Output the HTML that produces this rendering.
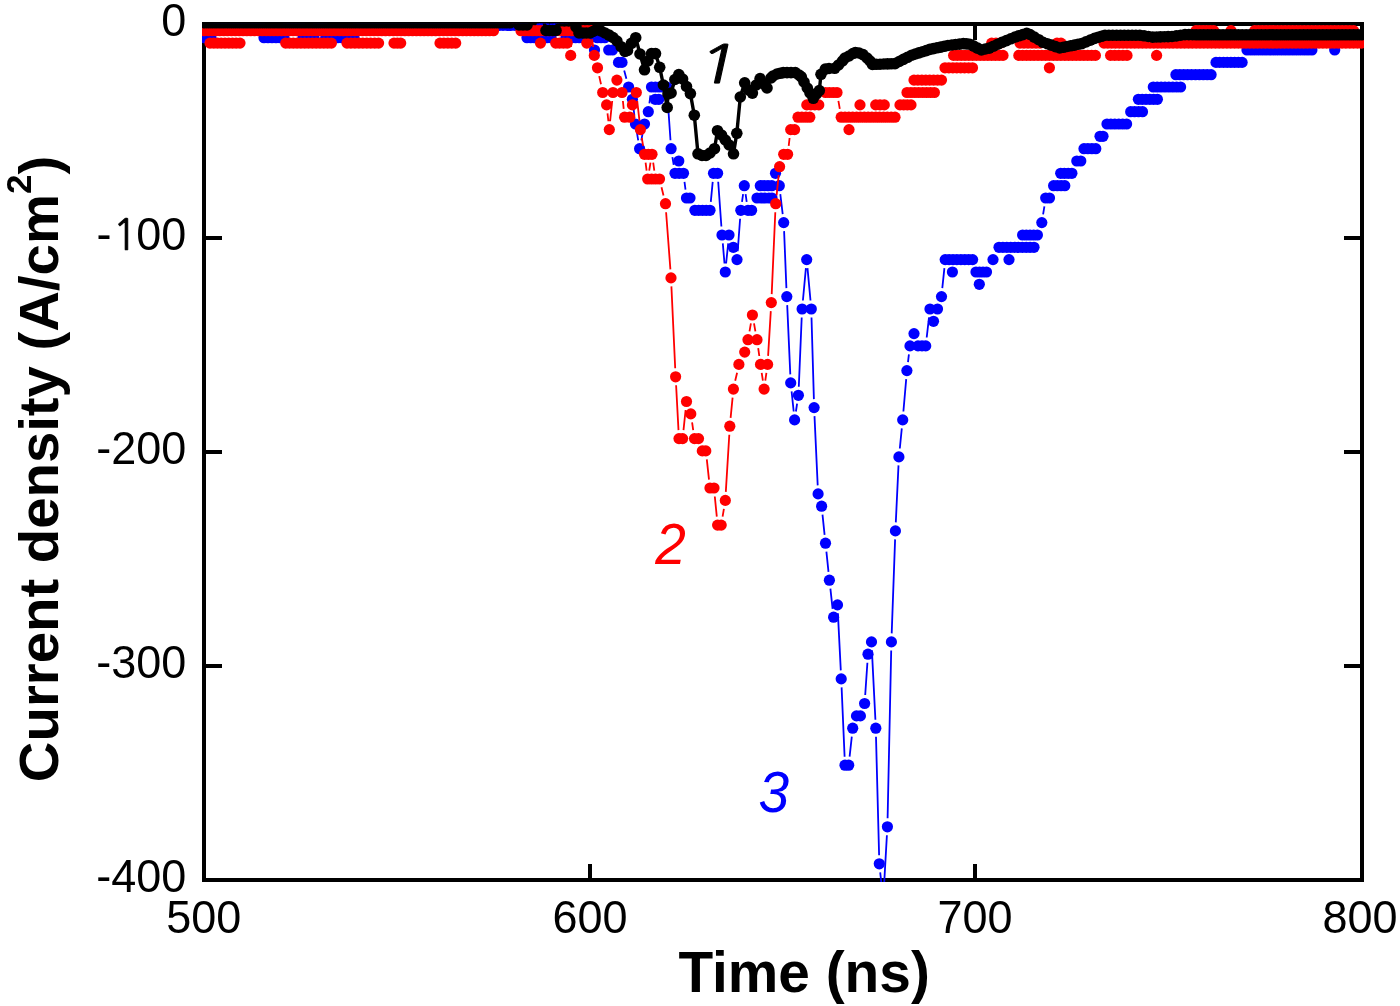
<!DOCTYPE html>
<html><head><meta charset="utf-8"><title>Current density vs Time</title>
<style>
html,body{margin:0;padding:0;background:#fff;}
svg{display:block}
text{font-family:"Liberation Sans",Arial,sans-serif;}
.tl{font-size:45px;fill:#000}
.ax{font-size:56.5px;font-weight:bold;fill:#000}
.it{font-size:55px;font-style:italic}
.one{font-family:NanumGothic,"Liberation Sans",sans-serif}
.one1{font-family:NanumGothic,"Liberation Sans",sans-serif;font-size:41px;stroke:#000;stroke-width:0.7px}
</style></head><body>
<svg width="1400" height="1006" viewBox="0 0 1400 1006">
<rect width="1400" height="1006" fill="#fff"/>

<defs><clipPath id="cp"><rect x="202.0" y="23.5" width="1162.0" height="858.5"/></clipPath></defs>

<g stroke="#000" stroke-width="4" fill="none" stroke-linecap="butt">
<rect x="204.0" y="24.0" width="1158.0" height="856.0"/>
<line x1="590.0" y1="880.0" x2="590.0" y2="864.0"/>
<line x1="590.0" y1="24.0" x2="590.0" y2="40.0"/>
<line x1="975.0" y1="880.0" x2="975.0" y2="864.0"/>
<line x1="975.0" y1="24.0" x2="975.0" y2="40.0"/>
<line x1="204.0" y1="238.0" x2="222.0" y2="238.0"/>
<line x1="1362.0" y1="238.0" x2="1344.0" y2="238.0"/>
<line x1="204.0" y1="452.0" x2="222.0" y2="452.0"/>
<line x1="1362.0" y1="452.0" x2="1344.0" y2="452.0"/>
<line x1="204.0" y1="666.0" x2="222.0" y2="666.0"/>
<line x1="1362.0" y1="666.0" x2="1344.0" y2="666.0"/>
</g>

<g clip-path="url(#cp)"><path fill="none" stroke="#0000ff" stroke-width="1.8" d="M624.2 70.6L626.4 78.8M633.5 107.8L634.4 115.6M636.9 132.4L638.2 140.3M641.3 140.3L642.8 132.3M649.4 103.3L650.4 95.4M667.4 95.5L670.5 140.2M672.4 157.1L673.7 164.9M684.5 181.8L685.5 189.6M710.8 201.9L712.7 181.8M718.2 181.8L721.4 226.5M722.8 243.4L724.5 263.5M726.1 263.5L728.2 243.4M737.7 251.2L740.1 218.8M742.0 201.9L743.1 194.1M745.6 194.1L746.7 201.9M773.2 189.6L774.3 181.7M780.3 194.1L782.7 214.2M784.1 231.1L786.4 288.1M787.2 305.1L790.3 374.4M791.6 391.4L793.7 411.5M795.9 411.5L797.1 403.7M798.8 386.8L801.7 317.5M802.9 300.5L805.9 268.1M807.5 268.1L810.5 300.5M811.5 317.5L813.9 399.1M814.5 416.1L817.7 485.4M822.5 514.7L824.6 534.8M826.4 551.7L828.5 571.8M830.4 588.7L832.6 608.8M837.9 613.4L840.8 670.4M841.6 687.4L844.6 756.7M849.6 756.7L851.8 736.6M865.2 695.0L867.4 662.7M871.9 650.4L875.4 719.7M876.0 736.7L879.1 855.3M880.2 872.3L882.3 891.5M883.7 891.5L886.9 835.3M887.6 818.3L891.2 650.4M891.7 633.4L895.1 539.4M895.8 522.4L898.5 465.4M899.8 448.5L901.8 428.4M903.4 411.5L906.2 379.1M908.0 362.2L908.9 354.4M926.7 337.5L929.0 317.4M942.3 288.2L944.4 268.1M1043.1 214.3L1044.4 206.4"/><g fill="#0000ff"><circle cx="204.5" cy="37.7" r="5.6"/><circle cx="207.8" cy="37.7" r="5.6"/><circle cx="211.0" cy="37.7" r="5.6"/><circle cx="215.0" cy="25.4" r="5.6"/><circle cx="218.8" cy="25.4" r="5.6"/><circle cx="222.5" cy="25.4" r="5.6"/><circle cx="226.2" cy="25.4" r="5.6"/><circle cx="230.0" cy="25.4" r="5.6"/><circle cx="233.8" cy="25.4" r="5.6"/><circle cx="237.5" cy="25.4" r="5.6"/><circle cx="241.2" cy="25.4" r="5.6"/><circle cx="245.0" cy="25.4" r="5.6"/><circle cx="248.8" cy="25.4" r="5.6"/><circle cx="252.5" cy="25.4" r="5.6"/><circle cx="256.2" cy="25.4" r="5.6"/><circle cx="260.0" cy="25.4" r="5.6"/><circle cx="264.0" cy="37.7" r="5.6"/><circle cx="268.0" cy="37.7" r="5.6"/><circle cx="272.0" cy="37.7" r="5.6"/><circle cx="276.0" cy="37.7" r="5.6"/><circle cx="280.0" cy="37.7" r="5.6"/><circle cx="284.0" cy="37.7" r="5.6"/><circle cx="288.0" cy="25.4" r="5.6"/><circle cx="292.0" cy="25.4" r="5.6"/><circle cx="296.0" cy="25.4" r="5.6"/><circle cx="300.0" cy="25.4" r="5.6"/><circle cx="303.0" cy="37.7" r="5.6"/><circle cx="306.7" cy="37.7" r="5.6"/><circle cx="310.3" cy="37.7" r="5.6"/><circle cx="314.0" cy="37.7" r="5.6"/><circle cx="318.0" cy="25.4" r="5.6"/><circle cx="322.0" cy="25.4" r="5.6"/><circle cx="325.7" cy="37.7" r="5.6"/><circle cx="329.7" cy="37.7" r="5.6"/><circle cx="333.8" cy="37.7" r="5.6"/><circle cx="337.8" cy="37.7" r="5.6"/><circle cx="341.9" cy="37.7" r="5.6"/><circle cx="345.9" cy="37.7" r="5.6"/><circle cx="350.0" cy="37.7" r="5.6"/><circle cx="354.0" cy="37.7" r="5.6"/><circle cx="358.0" cy="25.4" r="5.6"/><circle cx="361.9" cy="25.4" r="5.6"/><circle cx="365.8" cy="25.4" r="5.6"/><circle cx="369.7" cy="25.4" r="5.6"/><circle cx="373.6" cy="25.4" r="5.6"/><circle cx="377.4" cy="25.4" r="5.6"/><circle cx="381.3" cy="25.4" r="5.6"/><circle cx="385.2" cy="25.4" r="5.6"/><circle cx="389.1" cy="25.4" r="5.6"/><circle cx="393.0" cy="25.4" r="5.6"/><circle cx="396.9" cy="25.4" r="5.6"/><circle cx="400.8" cy="25.4" r="5.6"/><circle cx="404.7" cy="25.4" r="5.6"/><circle cx="408.6" cy="25.4" r="5.6"/><circle cx="412.4" cy="25.4" r="5.6"/><circle cx="416.3" cy="25.4" r="5.6"/><circle cx="420.2" cy="25.4" r="5.6"/><circle cx="424.1" cy="25.4" r="5.6"/><circle cx="428.0" cy="25.4" r="5.6"/><circle cx="431.9" cy="25.4" r="5.6"/><circle cx="435.8" cy="25.4" r="5.6"/><circle cx="439.7" cy="25.4" r="5.6"/><circle cx="443.6" cy="25.4" r="5.6"/><circle cx="447.4" cy="25.4" r="5.6"/><circle cx="451.3" cy="25.4" r="5.6"/><circle cx="455.2" cy="25.4" r="5.6"/><circle cx="459.1" cy="25.4" r="5.6"/><circle cx="463.0" cy="25.4" r="5.6"/><circle cx="466.9" cy="25.4" r="5.6"/><circle cx="470.8" cy="25.4" r="5.6"/><circle cx="474.7" cy="25.4" r="5.6"/><circle cx="478.6" cy="25.4" r="5.6"/><circle cx="482.4" cy="25.4" r="5.6"/><circle cx="486.3" cy="25.4" r="5.6"/><circle cx="490.2" cy="25.4" r="5.6"/><circle cx="494.1" cy="25.4" r="5.6"/><circle cx="498.0" cy="25.4" r="5.6"/><circle cx="499.0" cy="25.4" r="5.6"/><circle cx="503.0" cy="25.4" r="5.6"/><circle cx="507.0" cy="25.4" r="5.6"/><circle cx="511.0" cy="25.4" r="5.6"/><circle cx="515.0" cy="25.4" r="5.6"/><circle cx="519.0" cy="25.4" r="5.6"/><circle cx="523.0" cy="25.4" r="5.6"/><circle cx="527.0" cy="37.7" r="5.6"/><circle cx="530.7" cy="37.7" r="5.6"/><circle cx="534.3" cy="37.7" r="5.6"/><circle cx="538.0" cy="37.7" r="5.6"/><circle cx="542.0" cy="25.4" r="5.6"/><circle cx="544.0" cy="25.4" r="5.6"/><circle cx="547.0" cy="37.7" r="5.6"/><circle cx="551.0" cy="37.7" r="5.6"/><circle cx="555.0" cy="25.4" r="5.6"/><circle cx="559.0" cy="25.4" r="5.6"/><circle cx="563.0" cy="25.4" r="5.6"/><circle cx="566.0" cy="37.7" r="5.6"/><circle cx="569.0" cy="37.7" r="5.6"/><circle cx="572.0" cy="37.7" r="5.6"/><circle cx="575.6" cy="37.7" r="5.6"/><circle cx="579.2" cy="37.7" r="5.6"/><circle cx="582.8" cy="37.7" r="5.6"/><circle cx="586.4" cy="37.7" r="5.6"/><circle cx="590.0" cy="37.7" r="5.6"/><circle cx="594.5" cy="50.0" r="5.6"/><circle cx="597.3" cy="37.7" r="5.6"/><circle cx="601.0" cy="37.7" r="5.6"/><circle cx="604.8" cy="37.7" r="5.6"/><circle cx="608.7" cy="50.0" r="5.6"/><circle cx="612.5" cy="50.0" r="5.6"/><circle cx="618.5" cy="62.4" r="5.6"/><circle cx="622.0" cy="62.4" r="5.6"/><circle cx="628.6" cy="87.0" r="5.6"/><circle cx="632.4" cy="99.3" r="5.6"/><circle cx="635.5" cy="124.0" r="5.6"/><circle cx="639.6" cy="148.7" r="5.6"/><circle cx="644.5" cy="124.0" r="5.6"/><circle cx="648.3" cy="111.7" r="5.6"/><circle cx="651.5" cy="87.0" r="5.6"/><circle cx="655.2" cy="99.3" r="5.6"/><circle cx="655.4" cy="87.0" r="5.6"/><circle cx="658.8" cy="99.3" r="5.6"/><circle cx="659.2" cy="87.0" r="5.6"/><circle cx="663.0" cy="87.0" r="5.6"/><circle cx="666.8" cy="87.0" r="5.6"/><circle cx="671.1" cy="148.7" r="5.6"/><circle cx="675.0" cy="173.3" r="5.6"/><circle cx="678.8" cy="161.0" r="5.6"/><circle cx="679.2" cy="173.3" r="5.6"/><circle cx="683.5" cy="173.3" r="5.6"/><circle cx="686.5" cy="198.0" r="5.6"/><circle cx="690.0" cy="198.0" r="5.6"/><circle cx="694.9" cy="210.3" r="5.6"/><circle cx="698.7" cy="210.3" r="5.6"/><circle cx="702.5" cy="210.3" r="5.6"/><circle cx="706.2" cy="210.3" r="5.6"/><circle cx="710.0" cy="210.3" r="5.6"/><circle cx="713.5" cy="173.3" r="5.6"/><circle cx="717.6" cy="173.3" r="5.6"/><circle cx="722.0" cy="235.0" r="5.6"/><circle cx="725.3" cy="272.0" r="5.6"/><circle cx="729.0" cy="235.0" r="5.6"/><circle cx="733.3" cy="247.3" r="5.6"/><circle cx="737.0" cy="259.6" r="5.6"/><circle cx="740.8" cy="210.3" r="5.6"/><circle cx="744.3" cy="185.7" r="5.6"/><circle cx="748.0" cy="210.3" r="5.6"/><circle cx="751.6" cy="210.3" r="5.6"/><circle cx="757.0" cy="198.0" r="5.6"/><circle cx="760.3" cy="185.7" r="5.6"/><circle cx="761.0" cy="198.0" r="5.6"/><circle cx="764.2" cy="185.7" r="5.6"/><circle cx="765.0" cy="198.0" r="5.6"/><circle cx="768.0" cy="185.7" r="5.6"/><circle cx="769.0" cy="198.0" r="5.6"/><circle cx="772.0" cy="198.0" r="5.6"/><circle cx="771.8" cy="185.7" r="5.6"/><circle cx="775.5" cy="173.3" r="5.6"/><circle cx="779.3" cy="185.7" r="5.6"/><circle cx="783.7" cy="222.6" r="5.6"/><circle cx="786.8" cy="296.6" r="5.6"/><circle cx="790.7" cy="382.9" r="5.6"/><circle cx="794.6" cy="419.9" r="5.6"/><circle cx="798.4" cy="395.3" r="5.6"/><circle cx="802.1" cy="309.0" r="5.6"/><circle cx="806.7" cy="259.6" r="5.6"/><circle cx="811.3" cy="309.0" r="5.6"/><circle cx="814.1" cy="407.6" r="5.6"/><circle cx="818.1" cy="493.9" r="5.6"/><circle cx="821.6" cy="506.2" r="5.6"/><circle cx="825.5" cy="543.2" r="5.6"/><circle cx="829.4" cy="580.2" r="5.6"/><circle cx="833.6" cy="617.2" r="5.6"/><circle cx="837.5" cy="604.9" r="5.6"/><circle cx="841.2" cy="678.9" r="5.6"/><circle cx="845.0" cy="765.2" r="5.6"/><circle cx="848.7" cy="765.2" r="5.6"/><circle cx="852.7" cy="728.2" r="5.6"/><circle cx="856.5" cy="715.9" r="5.6"/><circle cx="860.4" cy="715.9" r="5.6"/><circle cx="864.6" cy="703.5" r="5.6"/><circle cx="868.0" cy="654.2" r="5.6"/><circle cx="871.5" cy="641.9" r="5.6"/><circle cx="875.8" cy="728.2" r="5.6"/><circle cx="879.3" cy="863.8" r="5.6"/><circle cx="883.2" cy="900.0" r="5.6"/><circle cx="887.4" cy="826.8" r="5.6"/><circle cx="891.4" cy="641.9" r="5.6"/><circle cx="895.4" cy="530.9" r="5.6"/><circle cx="898.9" cy="456.9" r="5.6"/><circle cx="902.7" cy="419.9" r="5.6"/><circle cx="906.9" cy="370.6" r="5.6"/><circle cx="910.0" cy="345.9" r="5.6"/><circle cx="914.0" cy="333.6" r="5.6"/><circle cx="918.0" cy="345.9" r="5.6"/><circle cx="922.0" cy="345.9" r="5.6"/><circle cx="925.7" cy="345.9" r="5.6"/><circle cx="930.0" cy="309.0" r="5.6"/><circle cx="933.5" cy="321.3" r="5.6"/><circle cx="937.5" cy="309.0" r="5.6"/><circle cx="941.5" cy="296.6" r="5.6"/><circle cx="945.2" cy="259.6" r="5.6"/><circle cx="949.1" cy="259.6" r="5.6"/><circle cx="953.0" cy="259.6" r="5.6"/><circle cx="956.9" cy="259.6" r="5.6"/><circle cx="960.9" cy="259.6" r="5.6"/><circle cx="964.8" cy="259.6" r="5.6"/><circle cx="968.7" cy="259.6" r="5.6"/><circle cx="972.6" cy="259.6" r="5.6"/><circle cx="952.4" cy="272.0" r="5.6"/><circle cx="976.0" cy="272.0" r="5.6"/><circle cx="979.5" cy="272.0" r="5.6"/><circle cx="983.0" cy="272.0" r="5.6"/><circle cx="986.5" cy="272.0" r="5.6"/><circle cx="979.3" cy="284.3" r="5.6"/><circle cx="993.0" cy="259.6" r="5.6"/><circle cx="999.0" cy="247.3" r="5.6"/><circle cx="1002.9" cy="247.3" r="5.6"/><circle cx="1006.8" cy="247.3" r="5.6"/><circle cx="1010.7" cy="247.3" r="5.6"/><circle cx="1014.6" cy="247.3" r="5.6"/><circle cx="1018.4" cy="247.3" r="5.6"/><circle cx="1022.3" cy="247.3" r="5.6"/><circle cx="1026.2" cy="247.3" r="5.6"/><circle cx="1030.1" cy="247.3" r="5.6"/><circle cx="1034.0" cy="247.3" r="5.6"/><circle cx="1009.0" cy="259.6" r="5.6"/><circle cx="1022.6" cy="235.0" r="5.6"/><circle cx="1026.3" cy="235.0" r="5.6"/><circle cx="1030.0" cy="235.0" r="5.6"/><circle cx="1033.7" cy="235.0" r="5.6"/><circle cx="1037.4" cy="235.0" r="5.6"/><circle cx="1041.8" cy="222.6" r="5.6"/><circle cx="1045.7" cy="198.0" r="5.6"/><circle cx="1049.5" cy="198.0" r="5.6"/><circle cx="1053.6" cy="185.7" r="5.6"/><circle cx="1057.3" cy="185.7" r="5.6"/><circle cx="1061.1" cy="185.7" r="5.6"/><circle cx="1064.8" cy="185.7" r="5.6"/><circle cx="1060.7" cy="173.3" r="5.6"/><circle cx="1064.4" cy="173.3" r="5.6"/><circle cx="1068.2" cy="173.3" r="5.6"/><circle cx="1071.9" cy="173.3" r="5.6"/><circle cx="1076.8" cy="161.0" r="5.6"/><circle cx="1080.8" cy="161.0" r="5.6"/><circle cx="1084.0" cy="148.7" r="5.6"/><circle cx="1087.9" cy="148.7" r="5.6"/><circle cx="1091.9" cy="148.7" r="5.6"/><circle cx="1095.8" cy="148.7" r="5.6"/><circle cx="1100.0" cy="136.3" r="5.6"/><circle cx="1103.0" cy="136.3" r="5.6"/><circle cx="1107.0" cy="124.0" r="5.6"/><circle cx="1110.9" cy="124.0" r="5.6"/><circle cx="1114.8" cy="124.0" r="5.6"/><circle cx="1118.8" cy="124.0" r="5.6"/><circle cx="1122.7" cy="124.0" r="5.6"/><circle cx="1126.6" cy="124.0" r="5.6"/><circle cx="1130.7" cy="111.7" r="5.6"/><circle cx="1134.6" cy="111.7" r="5.6"/><circle cx="1138.6" cy="111.7" r="5.6"/><circle cx="1142.5" cy="111.7" r="5.6"/><circle cx="1138.4" cy="99.3" r="5.6"/><circle cx="1142.2" cy="99.3" r="5.6"/><circle cx="1146.0" cy="99.3" r="5.6"/><circle cx="1149.8" cy="99.3" r="5.6"/><circle cx="1153.6" cy="99.3" r="5.6"/><circle cx="1157.4" cy="99.3" r="5.6"/><circle cx="1153.3" cy="87.0" r="5.6"/><circle cx="1157.2" cy="87.0" r="5.6"/><circle cx="1161.1" cy="87.0" r="5.6"/><circle cx="1165.0" cy="87.0" r="5.6"/><circle cx="1168.9" cy="87.0" r="5.6"/><circle cx="1172.8" cy="87.0" r="5.6"/><circle cx="1176.7" cy="87.0" r="5.6"/><circle cx="1180.6" cy="87.0" r="5.6"/><circle cx="1175.9" cy="74.7" r="5.6"/><circle cx="1179.8" cy="74.7" r="5.6"/><circle cx="1183.7" cy="74.7" r="5.6"/><circle cx="1187.6" cy="74.7" r="5.6"/><circle cx="1191.5" cy="74.7" r="5.6"/><circle cx="1195.5" cy="74.7" r="5.6"/><circle cx="1199.4" cy="74.7" r="5.6"/><circle cx="1203.3" cy="74.7" r="5.6"/><circle cx="1207.2" cy="74.7" r="5.6"/><circle cx="1211.1" cy="74.7" r="5.6"/><circle cx="1216.0" cy="62.4" r="5.6"/><circle cx="1219.7" cy="62.4" r="5.6"/><circle cx="1223.5" cy="62.4" r="5.6"/><circle cx="1227.2" cy="62.4" r="5.6"/><circle cx="1230.9" cy="62.4" r="5.6"/><circle cx="1234.6" cy="62.4" r="5.6"/><circle cx="1238.4" cy="62.4" r="5.6"/><circle cx="1242.1" cy="62.4" r="5.6"/><circle cx="1247.0" cy="50.0" r="5.6"/><circle cx="1250.8" cy="50.0" r="5.6"/><circle cx="1254.6" cy="50.0" r="5.6"/><circle cx="1258.5" cy="50.0" r="5.6"/><circle cx="1262.3" cy="50.0" r="5.6"/><circle cx="1266.1" cy="50.0" r="5.6"/><circle cx="1269.9" cy="50.0" r="5.6"/><circle cx="1273.7" cy="50.0" r="5.6"/><circle cx="1277.5" cy="50.0" r="5.6"/><circle cx="1281.4" cy="50.0" r="5.6"/><circle cx="1285.2" cy="50.0" r="5.6"/><circle cx="1289.0" cy="50.0" r="5.6"/><circle cx="1292.8" cy="50.0" r="5.6"/><circle cx="1296.6" cy="50.0" r="5.6"/><circle cx="1300.4" cy="50.0" r="5.6"/><circle cx="1304.3" cy="50.0" r="5.6"/><circle cx="1308.1" cy="50.0" r="5.6"/><circle cx="1311.9" cy="50.0" r="5.6"/><circle cx="1334.7" cy="50.0" r="5.6"/><circle cx="1315.5" cy="37.7" r="5.6"/><circle cx="1319.4" cy="37.7" r="5.6"/><circle cx="1323.2" cy="37.7" r="5.6"/><circle cx="1327.1" cy="37.7" r="5.6"/><circle cx="1331.0" cy="37.7" r="5.6"/><circle cx="1338.5" cy="37.7" r="5.6"/><circle cx="1342.2" cy="37.7" r="5.6"/><circle cx="1346.0" cy="37.7" r="5.6"/><circle cx="1349.8" cy="37.7" r="5.6"/><circle cx="1353.5" cy="37.7" r="5.6"/><circle cx="1357.2" cy="37.7" r="5.6"/><circle cx="1361.0" cy="37.7" r="5.6"/></g></g>

<g clip-path="url(#cp)"><path fill="none" stroke="#ff0000" stroke-width="1.8" d="M568.7 39.1L569.7 47.0M571.0 46.9L571.3 39.2M592.1 39.1L593.2 47.0M599.2 76.1L601.0 84.2M607.5 113.3L608.4 121.1M610.1 121.1L612.2 101.0M622.9 101.0L623.7 108.8M637.2 100.9L639.5 121.1M641.8 138.0L643.1 145.9M645.6 162.7L646.6 170.6M649.2 170.6L650.5 162.7M653.2 162.7L654.3 170.6M661.5 187.3L663.5 195.5M666.1 212.2L670.4 269.4M671.4 286.4L675.2 368.3M676.1 385.3L678.5 430.1M683.5 430.1L685.6 410.0M692.1 422.3L693.2 430.2M706.8 459.4L709.0 479.6M714.8 496.5L716.8 516.6M722.6 516.7L723.9 508.8M725.8 491.9L729.3 434.7M730.6 417.8L732.6 397.6M735.2 380.8L737.1 372.7M749.5 331.3L750.9 323.3M754.0 323.3L755.4 331.3M758.2 348.1L759.3 356.0M761.7 372.8L762.9 380.7M765.3 380.7L766.4 372.8M768.1 355.9L770.8 311.1M771.7 294.1L775.3 212.2M776.6 195.3L778.7 175.1M788.7 145.9L789.6 138.0M838.4 100.9L839.8 108.8M912.0 96.4L913.0 88.6"/><g fill="#ff0000"><circle cx="204.5" cy="30.7" r="5.6"/><circle cx="208.4" cy="30.7" r="5.6"/><circle cx="212.2" cy="30.7" r="5.6"/><circle cx="216.1" cy="30.7" r="5.6"/><circle cx="219.9" cy="30.7" r="5.6"/><circle cx="223.8" cy="30.7" r="5.6"/><circle cx="227.6" cy="30.7" r="5.6"/><circle cx="231.5" cy="30.7" r="5.6"/><circle cx="235.3" cy="30.7" r="5.6"/><circle cx="239.2" cy="30.7" r="5.6"/><circle cx="243.0" cy="30.7" r="5.6"/><circle cx="246.9" cy="30.7" r="5.6"/><circle cx="250.7" cy="30.7" r="5.6"/><circle cx="254.6" cy="30.7" r="5.6"/><circle cx="258.4" cy="30.7" r="5.6"/><circle cx="262.3" cy="30.7" r="5.6"/><circle cx="266.2" cy="30.7" r="5.6"/><circle cx="270.0" cy="30.7" r="5.6"/><circle cx="273.9" cy="30.7" r="5.6"/><circle cx="277.7" cy="30.7" r="5.6"/><circle cx="281.6" cy="30.7" r="5.6"/><circle cx="285.4" cy="30.7" r="5.6"/><circle cx="289.3" cy="30.7" r="5.6"/><circle cx="293.1" cy="30.7" r="5.6"/><circle cx="297.0" cy="30.7" r="5.6"/><circle cx="300.8" cy="30.7" r="5.6"/><circle cx="304.7" cy="30.7" r="5.6"/><circle cx="308.5" cy="30.7" r="5.6"/><circle cx="312.4" cy="30.7" r="5.6"/><circle cx="316.2" cy="30.7" r="5.6"/><circle cx="320.1" cy="30.7" r="5.6"/><circle cx="324.0" cy="30.7" r="5.6"/><circle cx="327.8" cy="30.7" r="5.6"/><circle cx="331.7" cy="30.7" r="5.6"/><circle cx="335.5" cy="30.7" r="5.6"/><circle cx="339.4" cy="30.7" r="5.6"/><circle cx="343.2" cy="30.7" r="5.6"/><circle cx="347.1" cy="30.7" r="5.6"/><circle cx="350.9" cy="30.7" r="5.6"/><circle cx="354.8" cy="30.7" r="5.6"/><circle cx="358.6" cy="30.7" r="5.6"/><circle cx="362.5" cy="30.7" r="5.6"/><circle cx="366.3" cy="30.7" r="5.6"/><circle cx="370.2" cy="30.7" r="5.6"/><circle cx="374.0" cy="30.7" r="5.6"/><circle cx="377.9" cy="30.7" r="5.6"/><circle cx="381.8" cy="30.7" r="5.6"/><circle cx="385.6" cy="30.7" r="5.6"/><circle cx="389.5" cy="30.7" r="5.6"/><circle cx="393.3" cy="30.7" r="5.6"/><circle cx="397.2" cy="30.7" r="5.6"/><circle cx="401.0" cy="30.7" r="5.6"/><circle cx="404.9" cy="30.7" r="5.6"/><circle cx="408.7" cy="30.7" r="5.6"/><circle cx="412.6" cy="30.7" r="5.6"/><circle cx="416.4" cy="30.7" r="5.6"/><circle cx="420.3" cy="30.7" r="5.6"/><circle cx="424.1" cy="30.7" r="5.6"/><circle cx="428.0" cy="30.7" r="5.6"/><circle cx="431.8" cy="30.7" r="5.6"/><circle cx="435.7" cy="30.7" r="5.6"/><circle cx="439.6" cy="30.7" r="5.6"/><circle cx="443.4" cy="30.7" r="5.6"/><circle cx="447.3" cy="30.7" r="5.6"/><circle cx="451.1" cy="30.7" r="5.6"/><circle cx="455.0" cy="30.7" r="5.6"/><circle cx="458.8" cy="30.7" r="5.6"/><circle cx="462.7" cy="30.7" r="5.6"/><circle cx="466.5" cy="30.7" r="5.6"/><circle cx="470.4" cy="30.7" r="5.6"/><circle cx="474.2" cy="30.7" r="5.6"/><circle cx="478.1" cy="30.7" r="5.6"/><circle cx="481.9" cy="30.7" r="5.6"/><circle cx="485.8" cy="30.7" r="5.6"/><circle cx="489.6" cy="30.7" r="5.6"/><circle cx="493.5" cy="30.7" r="5.6"/><circle cx="210.0" cy="43.1" r="5.6"/><circle cx="213.8" cy="43.1" r="5.6"/><circle cx="217.5" cy="43.1" r="5.6"/><circle cx="221.2" cy="43.1" r="5.6"/><circle cx="225.0" cy="43.1" r="5.6"/><circle cx="228.8" cy="43.1" r="5.6"/><circle cx="232.5" cy="43.1" r="5.6"/><circle cx="236.2" cy="43.1" r="5.6"/><circle cx="240.0" cy="43.1" r="5.6"/><circle cx="285.7" cy="43.1" r="5.6"/><circle cx="289.5" cy="43.1" r="5.6"/><circle cx="293.3" cy="43.1" r="5.6"/><circle cx="297.1" cy="43.1" r="5.6"/><circle cx="300.9" cy="43.1" r="5.6"/><circle cx="304.7" cy="43.1" r="5.6"/><circle cx="308.5" cy="43.1" r="5.6"/><circle cx="312.4" cy="43.1" r="5.6"/><circle cx="316.2" cy="43.1" r="5.6"/><circle cx="320.0" cy="43.1" r="5.6"/><circle cx="323.8" cy="43.1" r="5.6"/><circle cx="327.6" cy="43.1" r="5.6"/><circle cx="331.4" cy="43.1" r="5.6"/><circle cx="347.0" cy="43.1" r="5.6"/><circle cx="350.9" cy="43.1" r="5.6"/><circle cx="354.9" cy="43.1" r="5.6"/><circle cx="358.9" cy="43.1" r="5.6"/><circle cx="362.8" cy="43.1" r="5.6"/><circle cx="366.8" cy="43.1" r="5.6"/><circle cx="370.7" cy="43.1" r="5.6"/><circle cx="374.7" cy="43.1" r="5.6"/><circle cx="378.6" cy="43.1" r="5.6"/><circle cx="394.0" cy="43.1" r="5.6"/><circle cx="397.4" cy="43.1" r="5.6"/><circle cx="400.7" cy="43.1" r="5.6"/><circle cx="440.0" cy="43.1" r="5.6"/><circle cx="443.9" cy="43.1" r="5.6"/><circle cx="447.9" cy="43.1" r="5.6"/><circle cx="451.8" cy="43.1" r="5.6"/><circle cx="455.7" cy="43.1" r="5.6"/><circle cx="497.5" cy="18.3" r="5.6"/><circle cx="501.4" cy="18.3" r="5.6"/><circle cx="505.3" cy="18.3" r="5.6"/><circle cx="509.2" cy="18.3" r="5.6"/><circle cx="513.1" cy="18.3" r="5.6"/><circle cx="517.0" cy="18.3" r="5.6"/><circle cx="521.0" cy="30.7" r="5.6"/><circle cx="524.9" cy="30.7" r="5.6"/><circle cx="528.8" cy="30.7" r="5.6"/><circle cx="532.7" cy="30.7" r="5.6"/><circle cx="536.6" cy="30.7" r="5.6"/><circle cx="540.4" cy="30.7" r="5.6"/><circle cx="544.3" cy="30.7" r="5.6"/><circle cx="548.2" cy="30.7" r="5.6"/><circle cx="552.1" cy="30.7" r="5.6"/><circle cx="556.0" cy="30.7" r="5.6"/><circle cx="559.9" cy="30.7" r="5.6"/><circle cx="563.8" cy="30.7" r="5.6"/><circle cx="567.7" cy="30.7" r="5.6"/><circle cx="571.6" cy="30.7" r="5.6"/><circle cx="575.4" cy="30.7" r="5.6"/><circle cx="579.3" cy="30.7" r="5.6"/><circle cx="583.2" cy="30.7" r="5.6"/><circle cx="587.1" cy="30.7" r="5.6"/><circle cx="591.0" cy="30.7" r="5.6"/><circle cx="540.5" cy="43.1" r="5.6"/><circle cx="555.7" cy="43.1" r="5.6"/><circle cx="559.5" cy="43.1" r="5.6"/><circle cx="563.4" cy="43.1" r="5.6"/><circle cx="567.2" cy="43.1" r="5.6"/><circle cx="586.8" cy="43.1" r="5.6"/><circle cx="570.7" cy="55.4" r="5.6"/><circle cx="594.3" cy="55.4" r="5.6"/><circle cx="597.5" cy="67.8" r="5.6"/><circle cx="602.7" cy="92.5" r="5.6"/><circle cx="606.6" cy="104.9" r="5.6"/><circle cx="609.3" cy="129.6" r="5.6"/><circle cx="613.0" cy="92.5" r="5.6"/><circle cx="616.9" cy="80.1" r="5.6"/><circle cx="622.0" cy="92.5" r="5.6"/><circle cx="624.6" cy="117.2" r="5.6"/><circle cx="629.8" cy="117.2" r="5.6"/><circle cx="632.4" cy="104.9" r="5.6"/><circle cx="636.3" cy="92.5" r="5.6"/><circle cx="640.4" cy="129.6" r="5.6"/><circle cx="644.5" cy="154.3" r="5.6"/><circle cx="647.7" cy="179.0" r="5.6"/><circle cx="652.0" cy="154.3" r="5.6"/><circle cx="655.5" cy="179.0" r="5.6"/><circle cx="659.5" cy="179.0" r="5.6"/><circle cx="665.5" cy="203.7" r="5.6"/><circle cx="671.0" cy="277.9" r="5.6"/><circle cx="675.6" cy="376.8" r="5.6"/><circle cx="679.0" cy="438.6" r="5.6"/><circle cx="682.6" cy="438.6" r="5.6"/><circle cx="686.5" cy="401.5" r="5.6"/><circle cx="690.8" cy="413.9" r="5.6"/><circle cx="694.5" cy="438.6" r="5.6"/><circle cx="698.5" cy="438.6" r="5.6"/><circle cx="702.3" cy="450.9" r="5.6"/><circle cx="705.8" cy="450.9" r="5.6"/><circle cx="710.0" cy="488.0" r="5.6"/><circle cx="714.0" cy="488.0" r="5.6"/><circle cx="717.6" cy="525.1" r="5.6"/><circle cx="721.2" cy="525.1" r="5.6"/><circle cx="725.3" cy="500.4" r="5.6"/><circle cx="729.8" cy="426.2" r="5.6"/><circle cx="733.4" cy="389.1" r="5.6"/><circle cx="738.9" cy="364.4" r="5.6"/><circle cx="744.7" cy="352.1" r="5.6"/><circle cx="748.0" cy="339.7" r="5.6"/><circle cx="752.4" cy="315.0" r="5.6"/><circle cx="757.0" cy="339.7" r="5.6"/><circle cx="760.5" cy="364.4" r="5.6"/><circle cx="764.1" cy="389.1" r="5.6"/><circle cx="767.6" cy="364.4" r="5.6"/><circle cx="771.3" cy="302.6" r="5.6"/><circle cx="775.7" cy="203.7" r="5.6"/><circle cx="779.6" cy="166.7" r="5.6"/><circle cx="783.7" cy="154.3" r="5.6"/><circle cx="787.6" cy="154.3" r="5.6"/><circle cx="790.7" cy="129.6" r="5.6"/><circle cx="794.6" cy="129.6" r="5.6"/><circle cx="798.0" cy="117.2" r="5.6"/><circle cx="801.9" cy="117.2" r="5.6"/><circle cx="805.9" cy="117.2" r="5.6"/><circle cx="809.8" cy="117.2" r="5.6"/><circle cx="806.8" cy="104.9" r="5.6"/><circle cx="810.8" cy="104.9" r="5.6"/><circle cx="814.8" cy="104.9" r="5.6"/><circle cx="818.8" cy="104.9" r="5.6"/><circle cx="825.5" cy="92.5" r="5.6"/><circle cx="829.3" cy="92.5" r="5.6"/><circle cx="833.2" cy="92.5" r="5.6"/><circle cx="837.0" cy="92.5" r="5.6"/><circle cx="841.2" cy="117.2" r="5.6"/><circle cx="845.0" cy="117.2" r="5.6"/><circle cx="848.9" cy="117.2" r="5.6"/><circle cx="852.7" cy="117.2" r="5.6"/><circle cx="856.6" cy="117.2" r="5.6"/><circle cx="860.4" cy="117.2" r="5.6"/><circle cx="864.3" cy="117.2" r="5.6"/><circle cx="868.1" cy="117.2" r="5.6"/><circle cx="871.9" cy="117.2" r="5.6"/><circle cx="875.8" cy="117.2" r="5.6"/><circle cx="879.6" cy="117.2" r="5.6"/><circle cx="883.5" cy="117.2" r="5.6"/><circle cx="887.3" cy="117.2" r="5.6"/><circle cx="891.2" cy="117.2" r="5.6"/><circle cx="895.0" cy="117.2" r="5.6"/><circle cx="849.0" cy="129.6" r="5.6"/><circle cx="860.0" cy="104.9" r="5.6"/><circle cx="875.7" cy="104.9" r="5.6"/><circle cx="880.0" cy="104.9" r="5.6"/><circle cx="884.3" cy="104.9" r="5.6"/><circle cx="900.0" cy="104.9" r="5.6"/><circle cx="903.7" cy="104.9" r="5.6"/><circle cx="907.3" cy="104.9" r="5.6"/><circle cx="911.0" cy="104.9" r="5.6"/><circle cx="907.0" cy="92.5" r="5.6"/><circle cx="910.9" cy="92.5" r="5.6"/><circle cx="914.8" cy="92.5" r="5.6"/><circle cx="918.7" cy="92.5" r="5.6"/><circle cx="922.7" cy="92.5" r="5.6"/><circle cx="926.6" cy="92.5" r="5.6"/><circle cx="930.5" cy="92.5" r="5.6"/><circle cx="934.4" cy="92.5" r="5.6"/><circle cx="914.0" cy="80.1" r="5.6"/><circle cx="917.9" cy="80.1" r="5.6"/><circle cx="921.9" cy="80.1" r="5.6"/><circle cx="925.8" cy="80.1" r="5.6"/><circle cx="929.7" cy="80.1" r="5.6"/><circle cx="933.6" cy="80.1" r="5.6"/><circle cx="937.6" cy="80.1" r="5.6"/><circle cx="941.5" cy="80.1" r="5.6"/><circle cx="945.0" cy="67.8" r="5.6"/><circle cx="948.9" cy="67.8" r="5.6"/><circle cx="952.9" cy="67.8" r="5.6"/><circle cx="956.8" cy="67.8" r="5.6"/><circle cx="960.7" cy="67.8" r="5.6"/><circle cx="964.6" cy="67.8" r="5.6"/><circle cx="968.6" cy="67.8" r="5.6"/><circle cx="972.5" cy="67.8" r="5.6"/><circle cx="953.6" cy="55.4" r="5.6"/><circle cx="957.4" cy="55.4" r="5.6"/><circle cx="961.2" cy="55.4" r="5.6"/><circle cx="965.0" cy="55.4" r="5.6"/><circle cx="968.8" cy="55.4" r="5.6"/><circle cx="972.6" cy="55.4" r="5.6"/><circle cx="976.4" cy="55.4" r="5.6"/><circle cx="980.2" cy="55.4" r="5.6"/><circle cx="984.0" cy="55.4" r="5.6"/><circle cx="987.8" cy="55.4" r="5.6"/><circle cx="991.6" cy="55.4" r="5.6"/><circle cx="995.4" cy="55.4" r="5.6"/><circle cx="999.2" cy="55.4" r="5.6"/><circle cx="1003.0" cy="55.4" r="5.6"/><circle cx="991.7" cy="43.1" r="5.6"/><circle cx="996.0" cy="43.1" r="5.6"/><circle cx="1000.3" cy="43.1" r="5.6"/><circle cx="1018.8" cy="55.4" r="5.6"/><circle cx="1022.6" cy="55.4" r="5.6"/><circle cx="1026.5" cy="55.4" r="5.6"/><circle cx="1030.3" cy="55.4" r="5.6"/><circle cx="1034.1" cy="55.4" r="5.6"/><circle cx="1038.0" cy="55.4" r="5.6"/><circle cx="1041.8" cy="55.4" r="5.6"/><circle cx="1045.6" cy="55.4" r="5.6"/><circle cx="1049.4" cy="55.4" r="5.6"/><circle cx="1053.3" cy="55.4" r="5.6"/><circle cx="1057.1" cy="55.4" r="5.6"/><circle cx="1060.9" cy="55.4" r="5.6"/><circle cx="1064.8" cy="55.4" r="5.6"/><circle cx="1068.6" cy="55.4" r="5.6"/><circle cx="1072.4" cy="55.4" r="5.6"/><circle cx="1076.2" cy="55.4" r="5.6"/><circle cx="1080.1" cy="55.4" r="5.6"/><circle cx="1083.9" cy="55.4" r="5.6"/><circle cx="1087.7" cy="55.4" r="5.6"/><circle cx="1091.6" cy="55.4" r="5.6"/><circle cx="1095.4" cy="55.4" r="5.6"/><circle cx="1020.0" cy="43.1" r="5.6"/><circle cx="1024.0" cy="43.1" r="5.6"/><circle cx="1028.0" cy="43.1" r="5.6"/><circle cx="1032.0" cy="43.1" r="5.6"/><circle cx="1036.0" cy="43.1" r="5.6"/><circle cx="1040.0" cy="43.1" r="5.6"/><circle cx="1049.4" cy="67.8" r="5.6"/><circle cx="1057.0" cy="43.1" r="5.6"/><circle cx="1061.0" cy="43.1" r="5.6"/><circle cx="1110.6" cy="55.4" r="5.6"/><circle cx="1114.7" cy="55.4" r="5.6"/><circle cx="1118.8" cy="55.4" r="5.6"/><circle cx="1122.9" cy="55.4" r="5.6"/><circle cx="1127.0" cy="55.4" r="5.6"/><circle cx="1156.6" cy="55.4" r="5.6"/><circle cx="1104.0" cy="43.1" r="5.6"/><circle cx="1107.8" cy="43.1" r="5.6"/><circle cx="1111.7" cy="43.1" r="5.6"/><circle cx="1115.5" cy="43.1" r="5.6"/><circle cx="1119.4" cy="43.1" r="5.6"/><circle cx="1123.2" cy="43.1" r="5.6"/><circle cx="1127.0" cy="43.1" r="5.6"/><circle cx="1130.9" cy="43.1" r="5.6"/><circle cx="1134.7" cy="43.1" r="5.6"/><circle cx="1138.6" cy="43.1" r="5.6"/><circle cx="1142.4" cy="43.1" r="5.6"/><circle cx="1146.2" cy="43.1" r="5.6"/><circle cx="1150.1" cy="43.1" r="5.6"/><circle cx="1153.9" cy="43.1" r="5.6"/><circle cx="1157.8" cy="43.1" r="5.6"/><circle cx="1161.6" cy="43.1" r="5.6"/><circle cx="1165.4" cy="43.1" r="5.6"/><circle cx="1169.3" cy="43.1" r="5.6"/><circle cx="1173.1" cy="43.1" r="5.6"/><circle cx="1177.0" cy="43.1" r="5.6"/><circle cx="1180.8" cy="43.1" r="5.6"/><circle cx="1184.6" cy="43.1" r="5.6"/><circle cx="1188.5" cy="43.1" r="5.6"/><circle cx="1192.3" cy="43.1" r="5.6"/><circle cx="1196.2" cy="43.1" r="5.6"/><circle cx="1200.0" cy="43.1" r="5.6"/><circle cx="1203.8" cy="43.1" r="5.6"/><circle cx="1207.7" cy="43.1" r="5.6"/><circle cx="1211.5" cy="43.1" r="5.6"/><circle cx="1215.4" cy="43.1" r="5.6"/><circle cx="1219.2" cy="43.1" r="5.6"/><circle cx="1223.0" cy="43.1" r="5.6"/><circle cx="1226.9" cy="43.1" r="5.6"/><circle cx="1230.7" cy="43.1" r="5.6"/><circle cx="1234.6" cy="43.1" r="5.6"/><circle cx="1238.4" cy="43.1" r="5.6"/><circle cx="1242.3" cy="43.1" r="5.6"/><circle cx="1246.1" cy="43.1" r="5.6"/><circle cx="1249.9" cy="43.1" r="5.6"/><circle cx="1253.8" cy="43.1" r="5.6"/><circle cx="1257.6" cy="43.1" r="5.6"/><circle cx="1261.5" cy="43.1" r="5.6"/><circle cx="1265.3" cy="43.1" r="5.6"/><circle cx="1269.1" cy="43.1" r="5.6"/><circle cx="1273.0" cy="43.1" r="5.6"/><circle cx="1276.8" cy="43.1" r="5.6"/><circle cx="1280.7" cy="43.1" r="5.6"/><circle cx="1284.5" cy="43.1" r="5.6"/><circle cx="1288.3" cy="43.1" r="5.6"/><circle cx="1292.2" cy="43.1" r="5.6"/><circle cx="1296.0" cy="43.1" r="5.6"/><circle cx="1299.9" cy="43.1" r="5.6"/><circle cx="1303.7" cy="43.1" r="5.6"/><circle cx="1307.5" cy="43.1" r="5.6"/><circle cx="1311.4" cy="43.1" r="5.6"/><circle cx="1315.2" cy="43.1" r="5.6"/><circle cx="1319.1" cy="43.1" r="5.6"/><circle cx="1322.9" cy="43.1" r="5.6"/><circle cx="1326.7" cy="43.1" r="5.6"/><circle cx="1330.6" cy="43.1" r="5.6"/><circle cx="1334.4" cy="43.1" r="5.6"/><circle cx="1338.3" cy="43.1" r="5.6"/><circle cx="1342.1" cy="43.1" r="5.6"/><circle cx="1345.9" cy="43.1" r="5.6"/><circle cx="1349.8" cy="43.1" r="5.6"/><circle cx="1353.6" cy="43.1" r="5.6"/><circle cx="1357.5" cy="43.1" r="5.6"/><circle cx="1361.3" cy="43.1" r="5.6"/><circle cx="1196.0" cy="30.7" r="5.6"/><circle cx="1199.5" cy="30.7" r="5.6"/><circle cx="1203.1" cy="30.7" r="5.6"/><circle cx="1206.6" cy="30.7" r="5.6"/><circle cx="1210.2" cy="30.7" r="5.6"/><circle cx="1213.7" cy="30.7" r="5.6"/><circle cx="1231.0" cy="30.7" r="5.6"/><circle cx="1254.7" cy="30.7" r="5.6"/><circle cx="1258.5" cy="30.7" r="5.6"/><circle cx="1262.3" cy="30.7" r="5.6"/><circle cx="1266.1" cy="30.7" r="5.6"/><circle cx="1269.9" cy="30.7" r="5.6"/><circle cx="1273.7" cy="30.7" r="5.6"/><circle cx="1277.5" cy="30.7" r="5.6"/><circle cx="1281.3" cy="30.7" r="5.6"/><circle cx="1285.1" cy="30.7" r="5.6"/><circle cx="1288.9" cy="30.7" r="5.6"/><circle cx="1292.7" cy="30.7" r="5.6"/><circle cx="1296.5" cy="30.7" r="5.6"/><circle cx="1300.3" cy="30.7" r="5.6"/><circle cx="1304.2" cy="30.7" r="5.6"/><circle cx="1308.0" cy="30.7" r="5.6"/><circle cx="1311.8" cy="30.7" r="5.6"/><circle cx="1315.6" cy="30.7" r="5.6"/><circle cx="1319.4" cy="30.7" r="5.6"/><circle cx="1323.2" cy="30.7" r="5.6"/><circle cx="1327.0" cy="30.7" r="5.6"/><circle cx="1330.8" cy="30.7" r="5.6"/><circle cx="1334.6" cy="30.7" r="5.6"/><circle cx="1338.4" cy="30.7" r="5.6"/><circle cx="1342.2" cy="30.7" r="5.6"/><circle cx="1346.0" cy="30.7" r="5.6"/><circle cx="1349.8" cy="30.7" r="5.6"/><circle cx="1353.6" cy="30.7" r="5.6"/><circle cx="651.6" cy="179.0" r="5.6"/><circle cx="648.3" cy="154.3" r="5.6"/></g></g>

<g clip-path="url(#cp)"><polyline fill="none" stroke="#000000" stroke-width="3.4" stroke-linejoin="round" points="204.5,22.8 208.4,22.8 212.2,22.8 216.1,22.8 220.0,22.8 223.8,22.8 227.7,22.8 231.6,22.8 235.4,22.8 239.3,22.8 243.2,22.8 247.0,22.8 250.9,22.8 254.8,22.8 258.6,22.8 262.5,22.8 266.4,22.8 270.2,22.8 274.1,22.8 278.0,22.8 281.8,22.8 285.7,22.8 289.6,22.8 293.4,22.8 297.3,22.8 301.2,22.8 305.0,22.8 308.9,22.8 312.8,22.8 316.6,22.8 320.5,22.8 324.4,22.8 328.2,22.8 332.1,22.8 336.0,22.8 339.8,22.8 343.7,22.8 347.6,22.8 351.4,22.8 355.3,22.8 359.2,22.8 363.1,22.8 366.9,22.8 370.8,22.8 374.7,22.8 378.5,22.8 382.4,22.8 386.3,22.8 390.1,22.8 394.0,22.8 397.9,22.8 401.7,22.8 405.6,22.8 409.5,22.8 413.3,22.8 417.2,22.8 421.1,22.8 424.9,22.8 428.8,22.8 432.7,22.8 436.5,22.8 440.4,22.8 444.3,22.8 448.1,22.8 452.0,22.8 455.9,22.8 459.7,22.8 463.6,22.8 467.5,22.8 471.3,22.8 475.2,22.8 479.1,22.8 482.9,22.8 486.8,22.8 490.7,22.8 494.5,22.8 498.4,22.8 502.3,22.8 506.1,22.8 510.0,22.8 515.0,21.5 519.0,25.0 523.0,25.0 527.0,25.0 531.0,8.0 534.3,8.0 537.7,8.0 541.0,8.0 546.0,30.5 549.3,30.5 552.7,30.5 556.0,30.5 560.0,21.0 564.3,21.0 568.7,21.0 573.0,21.0 576.0,27.0 579.0,33.0 582.7,33.0 586.3,33.0 590.0,33.0 593.0,31.5 596.0,30.0 601.0,31.0 605.0,33.0 609.1,35.1 613.0,37.5 616.9,41.0 621.1,46.7 625.0,51.5 627.5,50.5 631.4,43.3 635.7,37.7 640.0,54.0 644.5,69.8 648.0,61.0 651.5,53.6 655.5,53.6 659.7,67.3 663.4,85.0 667.2,107.5 668.0,94.0 671.1,93.0 674.9,79.5 678.8,74.5 682.6,79.0 686.5,86.5 690.4,93.6 694.3,115.2 698.0,153.8 702.0,155.5 706.0,155.5 710.0,153.0 714.5,148.7 717.5,130.7 721.5,135.0 725.3,140.0 729.2,145.0 733.5,153.8 736.8,133.3 740.3,97.0 744.7,82.8 748.5,90.0 752.4,93.1 756.2,85.0 760.1,78.6 763.9,84.0 767.0,88.0 771.0,78.0 773.0,76.0 777.0,74.0 780.1,73.3 783.3,72.6 787.0,72.6 791.0,72.6 795.3,72.6 799.0,75.0 801.3,76.8 804.0,82.0 807.3,88.0 810.0,93.0 813.3,98.3 816.5,94.0 819.3,90.6 821.0,74.3 825.3,69.1 829.0,68.5 834.7,68.3 838.5,65.0 842.5,61.0 845.0,58.0 849.0,56.0 853.0,53.5 855.4,52.6 859.0,53.0 863.0,54.6 867.0,58.0 870.0,61.0 872.5,64.5 876.2,64.3 880.0,64.2 883.8,64.0 887.5,63.9 891.2,63.8 895.0,63.6 899.2,61.5 903.4,59.4 907.5,57.3 911.7,55.2 915.3,54.0 918.9,52.9 922.6,51.7 926.2,50.6 929.8,49.4 933.4,48.6 937.0,47.8 940.7,47.1 944.3,46.3 947.9,45.5 951.8,45.0 955.6,44.5 959.5,44.1 963.4,43.6 966.6,43.9 969.8,44.2 973.7,46.1 977.5,48.1 981.4,50.0 985.3,49.0 989.2,48.1 993.5,46.2 997.8,44.2 1002.1,42.3 1006.4,40.6 1010.7,38.8 1015.0,37.1 1018.9,35.8 1022.8,34.6 1026.7,33.3 1030.0,34.5 1034.3,37.1 1038.7,39.7 1043.0,42.3 1047.2,43.7 1051.3,45.1 1055.5,46.6 1059.7,48.0 1063.4,47.3 1067.0,46.5 1070.7,45.8 1074.4,45.1 1078.0,44.3 1081.7,43.6 1086.0,41.9 1090.3,40.1 1094.6,38.4 1098.1,37.3 1101.5,36.3 1105.0,35.2 1108.9,35.2 1112.7,35.2 1116.6,35.2 1120.5,35.2 1124.3,35.2 1128.2,35.2 1132.1,35.2 1135.9,35.2 1139.8,35.2 1144.1,35.8 1148.4,36.5 1152.7,37.1 1156.6,37.0 1160.4,36.9 1164.3,36.7 1168.1,36.6 1172.0,36.5 1176.3,35.9 1180.7,35.2 1185.0,34.6 1188.8,34.6 1192.5,34.7 1196.2,34.8 1200.0,34.8 1203.8,34.8 1207.7,34.8 1211.5,34.8 1215.4,34.8 1219.2,34.8 1223.0,34.8 1226.9,34.8 1230.7,34.8 1234.6,34.8 1238.4,34.8 1242.2,34.8 1246.1,34.8 1249.9,34.8 1253.8,34.8 1257.6,34.8 1261.4,34.8 1265.3,34.8 1269.1,34.8 1273.0,34.8 1276.8,34.8 1280.7,34.8 1284.5,34.8 1288.3,34.8 1292.2,34.8 1296.0,34.8 1299.9,34.8 1303.7,34.8 1307.5,34.8 1311.4,34.8 1315.2,34.8 1319.1,34.8 1322.9,34.8 1326.7,34.8 1330.6,34.8 1334.4,34.8 1338.3,34.8 1342.1,34.8 1345.9,34.8 1349.8,34.8 1353.6,34.8 1357.5,34.8 1361.3,34.8"/><g fill="#000000"><circle cx="204.5" cy="22.8" r="5.8"/><circle cx="208.4" cy="22.8" r="5.8"/><circle cx="212.2" cy="22.8" r="5.8"/><circle cx="216.1" cy="22.8" r="5.8"/><circle cx="220.0" cy="22.8" r="5.8"/><circle cx="223.8" cy="22.8" r="5.8"/><circle cx="227.7" cy="22.8" r="5.8"/><circle cx="231.6" cy="22.8" r="5.8"/><circle cx="235.4" cy="22.8" r="5.8"/><circle cx="239.3" cy="22.8" r="5.8"/><circle cx="243.2" cy="22.8" r="5.8"/><circle cx="247.0" cy="22.8" r="5.8"/><circle cx="250.9" cy="22.8" r="5.8"/><circle cx="254.8" cy="22.8" r="5.8"/><circle cx="258.6" cy="22.8" r="5.8"/><circle cx="262.5" cy="22.8" r="5.8"/><circle cx="266.4" cy="22.8" r="5.8"/><circle cx="270.2" cy="22.8" r="5.8"/><circle cx="274.1" cy="22.8" r="5.8"/><circle cx="278.0" cy="22.8" r="5.8"/><circle cx="281.8" cy="22.8" r="5.8"/><circle cx="285.7" cy="22.8" r="5.8"/><circle cx="289.6" cy="22.8" r="5.8"/><circle cx="293.4" cy="22.8" r="5.8"/><circle cx="297.3" cy="22.8" r="5.8"/><circle cx="301.2" cy="22.8" r="5.8"/><circle cx="305.0" cy="22.8" r="5.8"/><circle cx="308.9" cy="22.8" r="5.8"/><circle cx="312.8" cy="22.8" r="5.8"/><circle cx="316.6" cy="22.8" r="5.8"/><circle cx="320.5" cy="22.8" r="5.8"/><circle cx="324.4" cy="22.8" r="5.8"/><circle cx="328.2" cy="22.8" r="5.8"/><circle cx="332.1" cy="22.8" r="5.8"/><circle cx="336.0" cy="22.8" r="5.8"/><circle cx="339.8" cy="22.8" r="5.8"/><circle cx="343.7" cy="22.8" r="5.8"/><circle cx="347.6" cy="22.8" r="5.8"/><circle cx="351.4" cy="22.8" r="5.8"/><circle cx="355.3" cy="22.8" r="5.8"/><circle cx="359.2" cy="22.8" r="5.8"/><circle cx="363.1" cy="22.8" r="5.8"/><circle cx="366.9" cy="22.8" r="5.8"/><circle cx="370.8" cy="22.8" r="5.8"/><circle cx="374.7" cy="22.8" r="5.8"/><circle cx="378.5" cy="22.8" r="5.8"/><circle cx="382.4" cy="22.8" r="5.8"/><circle cx="386.3" cy="22.8" r="5.8"/><circle cx="390.1" cy="22.8" r="5.8"/><circle cx="394.0" cy="22.8" r="5.8"/><circle cx="397.9" cy="22.8" r="5.8"/><circle cx="401.7" cy="22.8" r="5.8"/><circle cx="405.6" cy="22.8" r="5.8"/><circle cx="409.5" cy="22.8" r="5.8"/><circle cx="413.3" cy="22.8" r="5.8"/><circle cx="417.2" cy="22.8" r="5.8"/><circle cx="421.1" cy="22.8" r="5.8"/><circle cx="424.9" cy="22.8" r="5.8"/><circle cx="428.8" cy="22.8" r="5.8"/><circle cx="432.7" cy="22.8" r="5.8"/><circle cx="436.5" cy="22.8" r="5.8"/><circle cx="440.4" cy="22.8" r="5.8"/><circle cx="444.3" cy="22.8" r="5.8"/><circle cx="448.1" cy="22.8" r="5.8"/><circle cx="452.0" cy="22.8" r="5.8"/><circle cx="455.9" cy="22.8" r="5.8"/><circle cx="459.7" cy="22.8" r="5.8"/><circle cx="463.6" cy="22.8" r="5.8"/><circle cx="467.5" cy="22.8" r="5.8"/><circle cx="471.3" cy="22.8" r="5.8"/><circle cx="475.2" cy="22.8" r="5.8"/><circle cx="479.1" cy="22.8" r="5.8"/><circle cx="482.9" cy="22.8" r="5.8"/><circle cx="486.8" cy="22.8" r="5.8"/><circle cx="490.7" cy="22.8" r="5.8"/><circle cx="494.5" cy="22.8" r="5.8"/><circle cx="498.4" cy="22.8" r="5.8"/><circle cx="502.3" cy="22.8" r="5.8"/><circle cx="506.1" cy="22.8" r="5.8"/><circle cx="510.0" cy="22.8" r="5.8"/><circle cx="515.0" cy="21.5" r="5.8"/><circle cx="519.0" cy="25.0" r="5.8"/><circle cx="523.0" cy="25.0" r="5.8"/><circle cx="527.0" cy="25.0" r="5.8"/><circle cx="531.0" cy="8.0" r="5.8"/><circle cx="534.3" cy="8.0" r="5.8"/><circle cx="537.7" cy="8.0" r="5.8"/><circle cx="541.0" cy="8.0" r="5.8"/><circle cx="546.0" cy="30.5" r="5.8"/><circle cx="549.3" cy="30.5" r="5.8"/><circle cx="552.7" cy="30.5" r="5.8"/><circle cx="556.0" cy="30.5" r="5.8"/><circle cx="560.0" cy="21.0" r="5.8"/><circle cx="564.3" cy="21.0" r="5.8"/><circle cx="568.7" cy="21.0" r="5.8"/><circle cx="573.0" cy="21.0" r="5.8"/><circle cx="576.0" cy="27.0" r="5.8"/><circle cx="579.0" cy="33.0" r="5.8"/><circle cx="582.7" cy="33.0" r="5.8"/><circle cx="586.3" cy="33.0" r="5.8"/><circle cx="590.0" cy="33.0" r="5.8"/><circle cx="593.0" cy="31.5" r="5.8"/><circle cx="596.0" cy="30.0" r="5.8"/><circle cx="601.0" cy="31.0" r="5.8"/><circle cx="605.0" cy="33.0" r="5.8"/><circle cx="609.1" cy="35.1" r="5.8"/><circle cx="613.0" cy="37.5" r="5.8"/><circle cx="616.9" cy="41.0" r="5.8"/><circle cx="621.1" cy="46.7" r="5.8"/><circle cx="625.0" cy="51.5" r="5.8"/><circle cx="627.5" cy="50.5" r="5.8"/><circle cx="631.4" cy="43.3" r="5.8"/><circle cx="635.7" cy="37.7" r="5.8"/><circle cx="640.0" cy="54.0" r="5.8"/><circle cx="644.5" cy="69.8" r="5.8"/><circle cx="648.0" cy="61.0" r="5.8"/><circle cx="651.5" cy="53.6" r="5.8"/><circle cx="655.5" cy="53.6" r="5.8"/><circle cx="659.7" cy="67.3" r="5.8"/><circle cx="663.4" cy="85.0" r="5.8"/><circle cx="667.2" cy="107.5" r="5.8"/><circle cx="668.0" cy="94.0" r="5.8"/><circle cx="671.1" cy="93.0" r="5.8"/><circle cx="674.9" cy="79.5" r="5.8"/><circle cx="678.8" cy="74.5" r="5.8"/><circle cx="682.6" cy="79.0" r="5.8"/><circle cx="686.5" cy="86.5" r="5.8"/><circle cx="690.4" cy="93.6" r="5.8"/><circle cx="694.3" cy="115.2" r="5.8"/><circle cx="698.0" cy="153.8" r="5.8"/><circle cx="702.0" cy="155.5" r="5.8"/><circle cx="706.0" cy="155.5" r="5.8"/><circle cx="710.0" cy="153.0" r="5.8"/><circle cx="714.5" cy="148.7" r="5.8"/><circle cx="717.5" cy="130.7" r="5.8"/><circle cx="721.5" cy="135.0" r="5.8"/><circle cx="725.3" cy="140.0" r="5.8"/><circle cx="729.2" cy="145.0" r="5.8"/><circle cx="733.5" cy="153.8" r="5.8"/><circle cx="736.8" cy="133.3" r="5.8"/><circle cx="740.3" cy="97.0" r="5.8"/><circle cx="744.7" cy="82.8" r="5.8"/><circle cx="748.5" cy="90.0" r="5.8"/><circle cx="752.4" cy="93.1" r="5.8"/><circle cx="756.2" cy="85.0" r="5.8"/><circle cx="760.1" cy="78.6" r="5.8"/><circle cx="763.9" cy="84.0" r="5.8"/><circle cx="767.0" cy="88.0" r="5.8"/><circle cx="771.0" cy="78.0" r="5.8"/><circle cx="773.0" cy="76.0" r="5.8"/><circle cx="777.0" cy="74.0" r="5.8"/><circle cx="780.1" cy="73.3" r="5.8"/><circle cx="783.3" cy="72.6" r="5.8"/><circle cx="787.0" cy="72.6" r="5.8"/><circle cx="791.0" cy="72.6" r="5.8"/><circle cx="795.3" cy="72.6" r="5.8"/><circle cx="799.0" cy="75.0" r="5.8"/><circle cx="801.3" cy="76.8" r="5.8"/><circle cx="804.0" cy="82.0" r="5.8"/><circle cx="807.3" cy="88.0" r="5.8"/><circle cx="810.0" cy="93.0" r="5.8"/><circle cx="813.3" cy="98.3" r="5.8"/><circle cx="816.5" cy="94.0" r="5.8"/><circle cx="819.3" cy="90.6" r="5.8"/><circle cx="821.0" cy="74.3" r="5.8"/><circle cx="825.3" cy="69.1" r="5.8"/><circle cx="829.0" cy="68.5" r="5.8"/><circle cx="834.7" cy="68.3" r="5.8"/><circle cx="838.5" cy="65.0" r="5.8"/><circle cx="842.5" cy="61.0" r="5.8"/><circle cx="845.0" cy="58.0" r="5.8"/><circle cx="849.0" cy="56.0" r="5.8"/><circle cx="853.0" cy="53.5" r="5.8"/><circle cx="855.4" cy="52.6" r="5.8"/><circle cx="859.0" cy="53.0" r="5.8"/><circle cx="863.0" cy="54.6" r="5.8"/><circle cx="867.0" cy="58.0" r="5.8"/><circle cx="870.0" cy="61.0" r="5.8"/><circle cx="872.5" cy="64.5" r="5.8"/><circle cx="876.2" cy="64.3" r="5.8"/><circle cx="880.0" cy="64.2" r="5.8"/><circle cx="883.8" cy="64.0" r="5.8"/><circle cx="887.5" cy="63.9" r="5.8"/><circle cx="891.2" cy="63.8" r="5.8"/><circle cx="895.0" cy="63.6" r="5.8"/><circle cx="899.2" cy="61.5" r="5.8"/><circle cx="903.4" cy="59.4" r="5.8"/><circle cx="907.5" cy="57.3" r="5.8"/><circle cx="911.7" cy="55.2" r="5.8"/><circle cx="915.3" cy="54.0" r="5.8"/><circle cx="918.9" cy="52.9" r="5.8"/><circle cx="922.6" cy="51.7" r="5.8"/><circle cx="926.2" cy="50.6" r="5.8"/><circle cx="929.8" cy="49.4" r="5.8"/><circle cx="933.4" cy="48.6" r="5.8"/><circle cx="937.0" cy="47.8" r="5.8"/><circle cx="940.7" cy="47.1" r="5.8"/><circle cx="944.3" cy="46.3" r="5.8"/><circle cx="947.9" cy="45.5" r="5.8"/><circle cx="951.8" cy="45.0" r="5.8"/><circle cx="955.6" cy="44.5" r="5.8"/><circle cx="959.5" cy="44.1" r="5.8"/><circle cx="963.4" cy="43.6" r="5.8"/><circle cx="966.6" cy="43.9" r="5.8"/><circle cx="969.8" cy="44.2" r="5.8"/><circle cx="973.7" cy="46.1" r="5.8"/><circle cx="977.5" cy="48.1" r="5.8"/><circle cx="981.4" cy="50.0" r="5.8"/><circle cx="985.3" cy="49.0" r="5.8"/><circle cx="989.2" cy="48.1" r="5.8"/><circle cx="993.5" cy="46.2" r="5.8"/><circle cx="997.8" cy="44.2" r="5.8"/><circle cx="1002.1" cy="42.3" r="5.8"/><circle cx="1006.4" cy="40.6" r="5.8"/><circle cx="1010.7" cy="38.8" r="5.8"/><circle cx="1015.0" cy="37.1" r="5.8"/><circle cx="1018.9" cy="35.8" r="5.8"/><circle cx="1022.8" cy="34.6" r="5.8"/><circle cx="1026.7" cy="33.3" r="5.8"/><circle cx="1030.0" cy="34.5" r="5.8"/><circle cx="1034.3" cy="37.1" r="5.8"/><circle cx="1038.7" cy="39.7" r="5.8"/><circle cx="1043.0" cy="42.3" r="5.8"/><circle cx="1047.2" cy="43.7" r="5.8"/><circle cx="1051.3" cy="45.1" r="5.8"/><circle cx="1055.5" cy="46.6" r="5.8"/><circle cx="1059.7" cy="48.0" r="5.8"/><circle cx="1063.4" cy="47.3" r="5.8"/><circle cx="1067.0" cy="46.5" r="5.8"/><circle cx="1070.7" cy="45.8" r="5.8"/><circle cx="1074.4" cy="45.1" r="5.8"/><circle cx="1078.0" cy="44.3" r="5.8"/><circle cx="1081.7" cy="43.6" r="5.8"/><circle cx="1086.0" cy="41.9" r="5.8"/><circle cx="1090.3" cy="40.1" r="5.8"/><circle cx="1094.6" cy="38.4" r="5.8"/><circle cx="1098.1" cy="37.3" r="5.8"/><circle cx="1101.5" cy="36.3" r="5.8"/><circle cx="1105.0" cy="35.2" r="5.8"/><circle cx="1108.9" cy="35.2" r="5.8"/><circle cx="1112.7" cy="35.2" r="5.8"/><circle cx="1116.6" cy="35.2" r="5.8"/><circle cx="1120.5" cy="35.2" r="5.8"/><circle cx="1124.3" cy="35.2" r="5.8"/><circle cx="1128.2" cy="35.2" r="5.8"/><circle cx="1132.1" cy="35.2" r="5.8"/><circle cx="1135.9" cy="35.2" r="5.8"/><circle cx="1139.8" cy="35.2" r="5.8"/><circle cx="1144.1" cy="35.8" r="5.8"/><circle cx="1148.4" cy="36.5" r="5.8"/><circle cx="1152.7" cy="37.1" r="5.8"/><circle cx="1156.6" cy="37.0" r="5.8"/><circle cx="1160.4" cy="36.9" r="5.8"/><circle cx="1164.3" cy="36.7" r="5.8"/><circle cx="1168.1" cy="36.6" r="5.8"/><circle cx="1172.0" cy="36.5" r="5.8"/><circle cx="1176.3" cy="35.9" r="5.8"/><circle cx="1180.7" cy="35.2" r="5.8"/><circle cx="1185.0" cy="34.6" r="5.8"/><circle cx="1188.8" cy="34.6" r="5.8"/><circle cx="1192.5" cy="34.7" r="5.8"/><circle cx="1196.2" cy="34.8" r="5.8"/><circle cx="1200.0" cy="34.8" r="5.8"/><circle cx="1203.8" cy="34.8" r="5.8"/><circle cx="1207.7" cy="34.8" r="5.8"/><circle cx="1211.5" cy="34.8" r="5.8"/><circle cx="1215.4" cy="34.8" r="5.8"/><circle cx="1219.2" cy="34.8" r="5.8"/><circle cx="1223.0" cy="34.8" r="5.8"/><circle cx="1226.9" cy="34.8" r="5.8"/><circle cx="1230.7" cy="34.8" r="5.8"/><circle cx="1234.6" cy="34.8" r="5.8"/><circle cx="1238.4" cy="34.8" r="5.8"/><circle cx="1242.2" cy="34.8" r="5.8"/><circle cx="1246.1" cy="34.8" r="5.8"/><circle cx="1249.9" cy="34.8" r="5.8"/><circle cx="1253.8" cy="34.8" r="5.8"/><circle cx="1257.6" cy="34.8" r="5.8"/><circle cx="1261.4" cy="34.8" r="5.8"/><circle cx="1265.3" cy="34.8" r="5.8"/><circle cx="1269.1" cy="34.8" r="5.8"/><circle cx="1273.0" cy="34.8" r="5.8"/><circle cx="1276.8" cy="34.8" r="5.8"/><circle cx="1280.7" cy="34.8" r="5.8"/><circle cx="1284.5" cy="34.8" r="5.8"/><circle cx="1288.3" cy="34.8" r="5.8"/><circle cx="1292.2" cy="34.8" r="5.8"/><circle cx="1296.0" cy="34.8" r="5.8"/><circle cx="1299.9" cy="34.8" r="5.8"/><circle cx="1303.7" cy="34.8" r="5.8"/><circle cx="1307.5" cy="34.8" r="5.8"/><circle cx="1311.4" cy="34.8" r="5.8"/><circle cx="1315.2" cy="34.8" r="5.8"/><circle cx="1319.1" cy="34.8" r="5.8"/><circle cx="1322.9" cy="34.8" r="5.8"/><circle cx="1326.7" cy="34.8" r="5.8"/><circle cx="1330.6" cy="34.8" r="5.8"/><circle cx="1334.4" cy="34.8" r="5.8"/><circle cx="1338.3" cy="34.8" r="5.8"/><circle cx="1342.1" cy="34.8" r="5.8"/><circle cx="1345.9" cy="34.8" r="5.8"/><circle cx="1349.8" cy="34.8" r="5.8"/><circle cx="1353.6" cy="34.8" r="5.8"/><circle cx="1357.5" cy="34.8" r="5.8"/><circle cx="1361.3" cy="34.8" r="5.8"/></g></g>

<text class="tl" transform="translate(203.8,932.5) scale(1,1.040)" text-anchor="middle">500</text>
<text class="tl" transform="translate(590.0,932.5) scale(1,1.040)" text-anchor="middle">600</text>
<text class="tl" transform="translate(975.0,932.5) scale(1,1.040)" text-anchor="middle">700</text>
<text class="tl" transform="translate(1360.0,932.5) scale(1,1.040)" text-anchor="middle">800</text>
<text class="tl" transform="translate(186.3,36.3) scale(1,1.040)" text-anchor="end">0</text>
<text class="tl" transform="translate(186.3,250.3) scale(1,1.040)" text-anchor="end">-<tspan class="one1" dx="1.2">1</tspan><tspan dx="-1.2">00</tspan></text>
<text class="tl" transform="translate(186.3,464.3) scale(1,1.040)" text-anchor="end">-200</text>
<text class="tl" transform="translate(186.3,678.3) scale(1,1.040)" text-anchor="end">-300</text>
<text class="tl" transform="translate(186.3,892.3) scale(1,1.040)" text-anchor="end">-400</text>
<text class="ax" style="font-size:56.8px" x="804.1" y="992" text-anchor="middle">Time (ns)</text>
<text class="ax" style="font-size:56.3px" transform="translate(58,469) rotate(-90)" text-anchor="middle">Current density (A/cm<tspan dy="-27" font-size="35">2</tspan><tspan dy="27">)</tspan></text>
<text class="one" transform="translate(714.5,83) skewX(-12.5) scale(1.36,1)" text-anchor="middle" fill="#000" style="font-size:52.5px;stroke:#000;stroke-width:0.9px">1</text>
<text class="it" transform="translate(670.6,563.8) scale(1,1.040)" text-anchor="middle" fill="#ff0000">2</text>
<text class="it" transform="translate(773.8,812) scale(1,1.040)" text-anchor="middle" fill="#0000ff">3</text>
</svg></body></html>
